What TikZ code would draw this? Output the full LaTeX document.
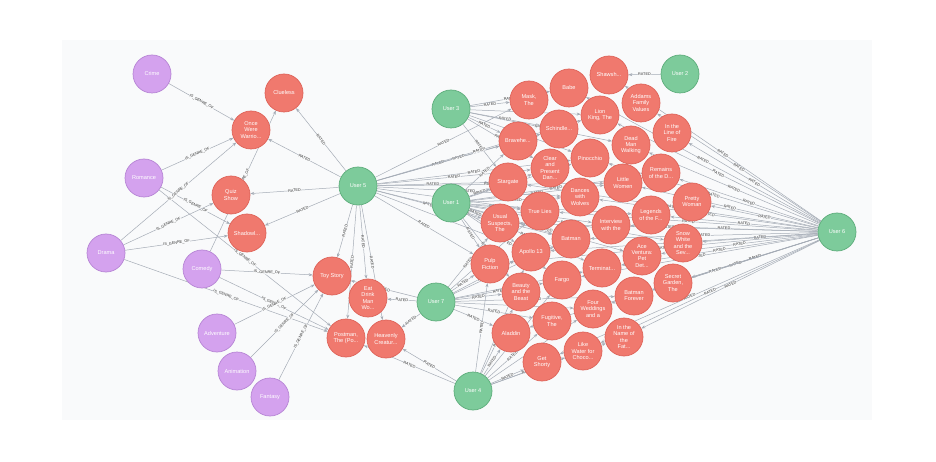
\documentclass[tikz,border=0pt]{standalone}
\usepackage{fontspec}
\setmainfont{Liberation Sans}
\usetikzlibrary{arrows.meta,backgrounds}
\definecolor{mred}{RGB}{240,121,110}
\definecolor{mredb}{RGB}{222,98,88}
\definecolor{ugreen}{RGB}{125,203,155}
\definecolor{ugreenb}{RGB}{92,172,122}
\definecolor{gpurp}{RGB}{212,162,238}
\definecolor{gpurpb}{RGB}{182,132,212}
\definecolor{panel}{RGB}{249,250,251}
\definecolor{edgec}{RGB}{165,172,182}
\tikzset{
 base/.style={circle,minimum size=38pt,inner sep=0pt,text=white,align=center,font=\fontsize{5.6}{6.2}\selectfont,line width=0.7pt},
 movie/.style={base,fill=mred,draw=mredb},
 user/.style={base,fill=ugreen,draw=ugreenb},
 genre/.style={base,fill=gpurp,draw=gpurpb},
 rel/.style={draw=edgec,line width=0.5pt,-{Stealth[length=4pt,width=3pt]}},
 lab/.style={font=\fontsize{3.8}{4}\selectfont,sloped,fill=panel,inner sep=0.3pt,text=black!80}
}
\newcommand{\rated}[2]{\path[rel] (#1) -- node[lab,pos=0.5]{RATED} (#2);}
\newcommand{\genof}[2]{\path[rel] (#1) -- node[lab,pos=0.5]{IS\_GENRE\_OF} (#2);}
\begin{document}
\begin{tikzpicture}[x=1pt,y=-1pt]
\useasboundingbox (0,0) rectangle (936,462);
% users
\node[user] (u5) at (358,186) {User 5};
\node[user] (u3) at (451,109) {User 3};
\node[user] (u1) at (451,203) {User 1};
\node[user] (u7) at (436,302) {User 7};
\node[user] (u4) at (473,391) {User 4};
\node[user] (u2) at (680,74) {User 2};
\node[user] (u6) at (837,232) {User 6};
% genres
\node[genre] (crime) at (152,74) {Crime};
\node[genre] (romance) at (144,178) {Romance};
\node[genre] (drama) at (106,253) {Drama};
\node[genre] (comedy) at (202,269) {Comedy};
\node[genre] (adv) at (217,333) {Adventure};
\node[genre] (anim) at (237,371) {Animation};
\node[genre] (fant) at (270,397) {Fantasy};
% left movies
\node[movie] (clueless) at (284,93) {Clueless};
\node[movie] (once) at (251,130) {Once\\Were\\Warrio...};
\node[movie] (quiz) at (231,195) {Quiz\\Show};
\node[movie] (shadow) at (247,233) {Shadowl...};
\node[movie] (toy) at (332,276) {Toy Story};
\node[movie] (eat) at (368,298) {Eat\\Drink\\Man\\Wo...};
\node[movie] (postman) at (346,338) {Postman,\\The (Po...};
\node[movie] (heavenly) at (386,339) {Heavenly\\Creatur...};
% right movies
\node[movie] (shaw) at (609,75) {Shawsh...};
\node[movie] (babe) at (569,88) {Babe};
\node[movie] (mask) at (529,100) {Mask,\\The};
\node[movie] (addams) at (641,103) {Addams\\Family\\Values};
\node[movie] (lion) at (600,115) {Lion\\King, The};
\node[movie] (schind) at (559,129) {Schindle...};
\node[movie] (brave) at (518,141) {Bravehe...};
\node[movie] (inline) at (672,133) {In the\\Line of\\Fire};
\node[movie] (dead) at (631,145) {Dead\\Man\\Walking};
\node[movie] (pino) at (590,158) {Pinocchio};
\node[movie] (clear) at (550,168) {Clear\\and\\Present\\Dan...};
\node[movie] (remains) at (661,173) {Remains\\of the D...};
\node[movie] (star) at (508,182) {Stargate};
\node[movie] (little) at (623,183) {Little\\Women};
\node[movie] (pretty) at (692,202) {Pretty\\Woman};
\node[movie] (dances) at (580,197) {Dances\\with\\Wolves};
\node[movie] (truel) at (540,211) {True Lies};
\node[movie] (legends) at (651,215) {Legends\\of the F...};
\node[movie] (usual) at (500,223) {Usual\\Suspects,\\The};
\node[movie] (interview) at (611,225) {Interview\\with the};
\node[movie] (batman) at (571,239) {Batman};
\node[movie] (snow) at (683,243) {Snow\\White\\and the\\Sev...};
\node[movie] (apollo) at (531,252) {Apollo 13};
\node[movie] (ace) at (642,256) {Ace\\Ventura:\\Pet\\Det...};
\node[movie] (pulp) at (490,264) {Pulp\\Fiction};
\node[movie] (term) at (602,268) {Terminat...};
\node[movie] (fargo) at (562,280) {Fargo};
\node[movie] (secret) at (673,283) {Secret\\Garden,\\The};
\node[movie] (beauty) at (521,292) {Beauty\\and the\\Beast};
\node[movie] (batf) at (634,296) {Batman\\Forever};
\node[movie] (four) at (593,309) {Four\\Weddings\\and a};
\node[movie] (fug) at (552,321) {Fugitive,\\The};
\node[movie] (inname) at (624,337) {In the\\Name of\\the\\Fat...};
\node[movie] (aladdin) at (511,333) {Aladdin};
\node[movie] (like) at (583,351) {Like\\Water for\\Choco...};
\node[movie] (gets) at (542,362) {Get\\Shorty};
\begin{scope}[on background layer]
\fill[white] (0,0) rectangle (936,462);
\fill[panel] (62,40) rectangle (872,420);
\genof{crime}{once}
\genof{romance}{once}
\genof{romance}{shadow}
\genof{romance}{postman}
\genof{drama}{once}
\genof{drama}{quiz}
\genof{drama}{shadow}
\genof{drama}{postman}
\genof{comedy}{clueless}
\genof{comedy}{toy}
\genof{comedy}{postman}
\genof{adv}{toy}
\genof{anim}{toy}
\genof{fant}{toy}
\foreach \m in {clueless,once,quiz,shadow,toy,eat,postman,heavenly,mask,brave,schind,star,clear,usual,truel,pulp,dances,batman,apollo,pino,lion,little}{\rated{u5}{\m}}
\foreach \m in {mask,babe,brave,schind,clear,lion,star,pino,dead}{\rated{u3}{\m}}
\foreach \m in {brave,star,clear,truel,usual,dances,pino,batman,interview,apollo,little,legends,term,fargo,ace,remains,snow,pulp,beauty}{\rated{u1}{\m}}
\foreach \m in {eat,toy,heavenly,pulp,usual,truel,apollo,beauty,fargo,batman,term,four,batf,fug,aladdin}{\rated{u7}{\m}}
\foreach \m in {postman,heavenly,pulp,aladdin,beauty,fug,gets,like,four,inname,fargo,apollo}{\rated{u4}{\m}}
\rated{u2}{shaw}
\foreach \m in {shaw,addams,inline,dead,remains,little,pretty,legends,interview,snow,ace,term,secret,batf,four,inname,like,gets,dances,batman,fargo,apollo,pulp,aladdin,usual,truel,star,pino,lion,babe}{\rated{u6}{\m}}
\end{scope}
\end{tikzpicture}
\end{document}
